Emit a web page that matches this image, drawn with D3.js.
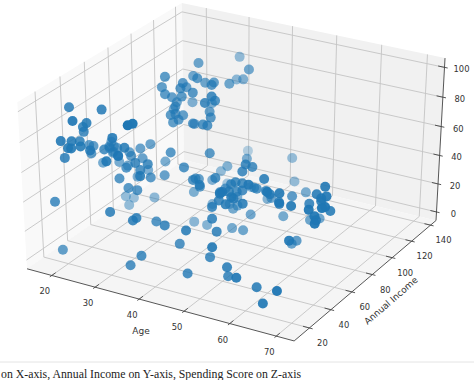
<!DOCTYPE html>
<html>
<head>
<meta charset="utf-8">
<script src="https://cdn.jsdelivr.net/npm/d3@7"></script>
<style>
    html, body { margin: 0; padding: 0; background: white; overflow: hidden; }
    svg { display: block; }
    .tick-label { font-family: "DejaVu Sans", sans-serif; font-size: 8.4px; fill: #333; }
    .axis-title { font-family: "DejaVu Sans", sans-serif; font-size: 9px; fill: #333; }
    .caption { font-family: "Liberation Serif", serif; font-size: 11.8px; fill: #222; }
</style>
</head>
<body>
<div id="chart"></div>
<script>
const ages = [19,21,20,23,31,22,35,23,64,30,67,35,58,24,37,22,35,20,52,35,35,25,46,31,54,29,45,35,40,23,60,21,53,18,49,21,42,30,36,20,65,24,48,31,49,24,50,27,29,31,49,33,31,59,50,47,51,69,27,53,70,19,67,54,63,18,43,68,19,32,70,47,60,60,59,26,45,40,23,49,57,38,67,46,21,48,55,22,34,50,68,18,48,40,32,24,47,27,48,20,23,49,67,26,49,21,66,54,68,66,65,19,38,19,18,19,63,49,51,50,27,38,40,39,23,31,43,40,59,38,47,39,25,31,20,29,44,32,19,35,57,32,28,32,25,28,48,32,34,34,43,39,44,38,47,27,37,30,34,30,56,29,19,31,50,36,42,33,36,32,40,28,36,36,52,30,58,27,59,35,37,32,46,29,41,30,54,28,41,36,34,32,33,38,47,35,45,32,32,30];
const incomes = [15,15,16,16,17,17,18,18,19,19,19,19,20,20,20,20,21,21,23,23,24,24,25,25,28,28,28,28,29,29,30,30,33,33,33,33,34,34,37,37,38,38,39,39,39,39,40,40,40,40,42,42,43,43,43,43,44,44,46,46,46,46,47,47,48,48,48,48,48,48,49,49,50,50,54,54,54,54,54,54,54,54,54,54,54,54,57,57,58,58,59,59,60,60,60,60,60,60,61,61,62,62,62,62,62,62,63,63,63,63,63,63,64,64,65,65,65,65,67,67,67,67,69,69,70,70,71,71,71,71,71,71,72,72,73,73,73,73,74,74,75,75,76,76,77,77,77,77,78,78,78,78,78,78,78,78,78,78,78,78,79,79,81,81,85,85,86,86,87,87,87,87,87,87,88,88,88,88,93,93,97,97,98,98,99,99,101,101,103,103,103,103,113,113,120,120,126,126,137,137];
const scores = [39,81,6,77,40,76,6,94,3,72,14,99,15,77,13,79,35,66,29,98,35,73,5,73,14,82,32,61,31,87,4,73,4,92,14,81,17,73,26,75,35,92,36,61,28,65,55,47,42,42,52,60,54,60,45,41,50,46,51,46,56,55,52,59,51,59,50,48,59,47,55,42,49,56,47,54,53,48,52,42,51,55,41,44,57,46,58,55,60,46,55,41,49,40,42,52,47,50,42,49,41,48,59,55,56,42,50,46,43,48,52,54,42,46,48,50,43,59,43,57,56,40,58,91,29,77,35,95,11,75,9,75,34,71,5,88,7,73,10,72,5,93,40,87,12,97,36,74,22,90,17,88,20,76,16,89,1,78,1,73,35,83,5,93,26,75,20,95,27,63,13,75,10,92,13,86,15,69,14,90,32,86,15,88,39,97,24,68,17,85,23,69,8,91,16,79,28,74,18,83];

const ageTicks = [20,30,40,50,60,70];
const incomeTicks = [20,40,60,80,100,120,140];
const scoreTicks = [0,20,40,60,80,100];

class scatter3dViz {
    constructor(parentElement) {
        this.parentElement = parentElement;
        this.initVis();
    }

    initVis() {
        let vis = this;
        vis.width = 474;
        vis.height = 380;

        vis.svg = d3.select("#" + vis.parentElement).append("svg")
            .attr("width", vis.width)
            .attr("height", vis.height);

        // unit cube scales, 5% margin like matplotlib's autoscale
        vis.x = vis.unitScale(ages);
        vis.y = vis.unitScale(incomes);
        vis.z = vis.unitScale(scores);

        // view settings: elev 30, azim -60, box aspect 4:4:3
        let az = -60 * Math.PI / 180, el = 30 * Math.PI / 180;
        vis.n = [Math.cos(el) * Math.cos(az), Math.cos(el) * Math.sin(az), Math.sin(el)];
        vis.u = [0.866025, 0.5, 0];
        vis.v = [-vis.n[2] * vis.u[1], vis.n[2] * vis.u[0], vis.n[0] * vis.u[1] - vis.n[1] * vis.u[0]];
        vis.box = [1.143, 1.143, 0.857];
        vis.dist = 10;

        // screen scales for the projected coordinates
        vis.sx = d3.scaleLinear().domain([-1, 1]).range([235.3 - 257, 235.3 + 257]);
        vis.sy = d3.scaleLinear().domain([-1, 1]).range([163.8 + 212.6, 163.8 - 212.6]);

        vis.line = d3.line().x(d => vis.project(d)[0]).y(d => vis.project(d)[1]);

        // pane limits in unit coordinates
        vis.lo = -1 / 48;
        vis.hi = 1 + 1 / 48;

        vis.drawPanes();
        vis.drawGrid();
        vis.drawAxes();
        vis.drawPoints();
        vis.drawText();
    }

    unitScale(values) {
        let ext = d3.extent(values);
        let margin = (ext[1] - ext[0]) * 0.05;
        return d3.scaleLinear().domain([ext[0] - margin, ext[1] + margin]).range([0, 1]);
    }

    centred(p) {
        let vis = this;
        return p.map((c, i) => (c - 0.5) * vis.box[i]);
    }

    depth(p) {
        let vis = this;
        return d3.sum(vis.centred(p), (c, i) => c * vis.n[i]);
    }

    project(p) {
        let vis = this;
        let q = vis.centred(p);
        let xv = d3.sum(q, (c, i) => c * vis.u[i]);
        let yv = d3.sum(q, (c, i) => c * vis.v[i]);
        let d = vis.dist - vis.depth(p);
        return [vis.sx(xv * vis.dist / d), vis.sy(yv * vis.dist / d)];
    }

    drawPanes() {
        let vis = this, lo = vis.lo, hi = vis.hi;
        let panes = [
            {fill: "#f9f9f9", pts: [[lo, lo, lo], [lo, hi, lo], [lo, hi, hi], [lo, lo, hi]]},
            {fill: "#f1f1f1", pts: [[lo, hi, lo], [hi, hi, lo], [hi, hi, hi], [lo, hi, hi]]},
            {fill: "#f5f5f5", pts: [[lo, lo, lo], [hi, lo, lo], [hi, hi, lo], [lo, hi, lo]]}
        ];
        vis.svg.append("g").selectAll("path")
            .data(panes)
            .enter().append("path")
            .attr("d", d => vis.line(d.pts) + "Z")
            .attr("fill", d => d.fill);
    }

    drawGrid() {
        let vis = this, lo = vis.lo, hi = vis.hi;
        let lines = [];
        ageTicks.forEach(t => {
            let a = vis.x(t);
            lines.push([[a, lo, lo], [a, hi, lo], [a, hi, hi]]);
        });
        incomeTicks.forEach(t => {
            let b = vis.y(t);
            lines.push([[hi, b, lo], [lo, b, lo], [lo, b, hi]]);
        });
        scoreTicks.forEach(t => {
            let c = vis.z(t);
            lines.push([[lo, lo, c], [lo, hi, c], [hi, hi, c]]);
        });
        vis.svg.append("g").selectAll("path")
            .data(lines)
            .enter().append("path")
            .attr("d", vis.line)
            .attr("fill", "none")
            .attr("stroke", "#c4c4c4")
            .attr("stroke-width", 0.9);
    }

    drawAxes() {
        let vis = this, lo = vis.lo, hi = vis.hi;
        let lines = [
            [[lo, lo, lo], [hi, lo, lo]],
            [[hi, lo, lo], [hi, hi, lo]],
            [[hi, hi, lo], [hi, hi, hi]]
        ];
        ageTicks.forEach(t => lines.push([[vis.x(t), lo - 0.012, lo], [vis.x(t), lo + 0.024, lo]]));
        incomeTicks.forEach(t => lines.push([[hi + 0.012, vis.y(t), lo], [hi - 0.024, vis.y(t), lo]]));
        scoreTicks.forEach(t => lines.push([[hi + 0.012, hi, vis.z(t)], [hi - 0.024, hi, vis.z(t)]]));

        vis.svg.append("g").selectAll("path")
            .data(lines)
            .enter().append("path")
            .attr("d", vis.line)
            .attr("fill", "none")
            .attr("stroke", "#444")
            .attr("stroke-width", 0.9);
    }

    drawPoints() {
        let vis = this;
        let points = ages.map((a, i) => ({p: [vis.x(a), vis.y(incomes[i]), vis.z(scores[i])]}));
        points.forEach(d => {
            d.depth = vis.depth(d.p);
            d.xy = vis.project(d.p);
        });
        points.sort((a, b) => a.depth - b.depth);

        // far points fade out, same as depthshade
        let alpha = d3.scaleLinear().domain(d3.extent(points, d => d.depth)).range([0.3, 1]);

        vis.svg.append("g").selectAll("circle")
            .data(points)
            .enter().append("circle")
            .attr("cx", d => d.xy[0])
            .attr("cy", d => d.xy[1])
            .attr("r", 5)
            .attr("fill", "#1f77b4")
            .attr("fill-opacity", d => alpha(d.depth));
    }

    drawText() {
        let vis = this, lo = vis.lo, hi = vis.hi;
        let addLabels = (ticks, pos, dx, dy) => {
            vis.svg.append("g").selectAll("text")
                .data(ticks)
                .enter().append("text")
                .attr("class", "tick-label")
                .attr("text-anchor", "middle")
                .attr("x", d => vis.project(pos(d))[0] + dx)
                .attr("y", d => vis.project(pos(d))[1] + dy)
                .text(d => d);
        };
        addLabels(ageTicks, t => [vis.x(t), lo, lo], -7, 19);
        addLabels(incomeTicks, t => [hi, vis.y(t), lo], 13, 18);
        addLabels(scoreTicks, t => [hi, hi, vis.z(t)], 17, 5);

        vis.svg.append("text")
            .attr("class", "axis-title")
            .attr("text-anchor", "middle")
            .attr("x", 141)
            .attr("y", 334)
            .text("Age");

        vis.svg.append("text")
            .attr("class", "axis-title")
            .attr("text-anchor", "middle")
            .attr("transform", "translate(393,303) rotate(-41)")
            .text("Annual Income");

        vis.svg.append("line")
            .attr("x1", 0).attr("x2", vis.width)
            .attr("y1", 362).attr("y2", 362)
            .attr("stroke", "#e4e4e4");

        vis.svg.append("text")
            .attr("class", "caption")
            .attr("x", 1)
            .attr("y", 378)
            .text("on X-axis, Annual Income on Y-axis, Spending Score on Z-axis");
    }
}

new scatter3dViz("chart");
</script>
</body>
</html>
